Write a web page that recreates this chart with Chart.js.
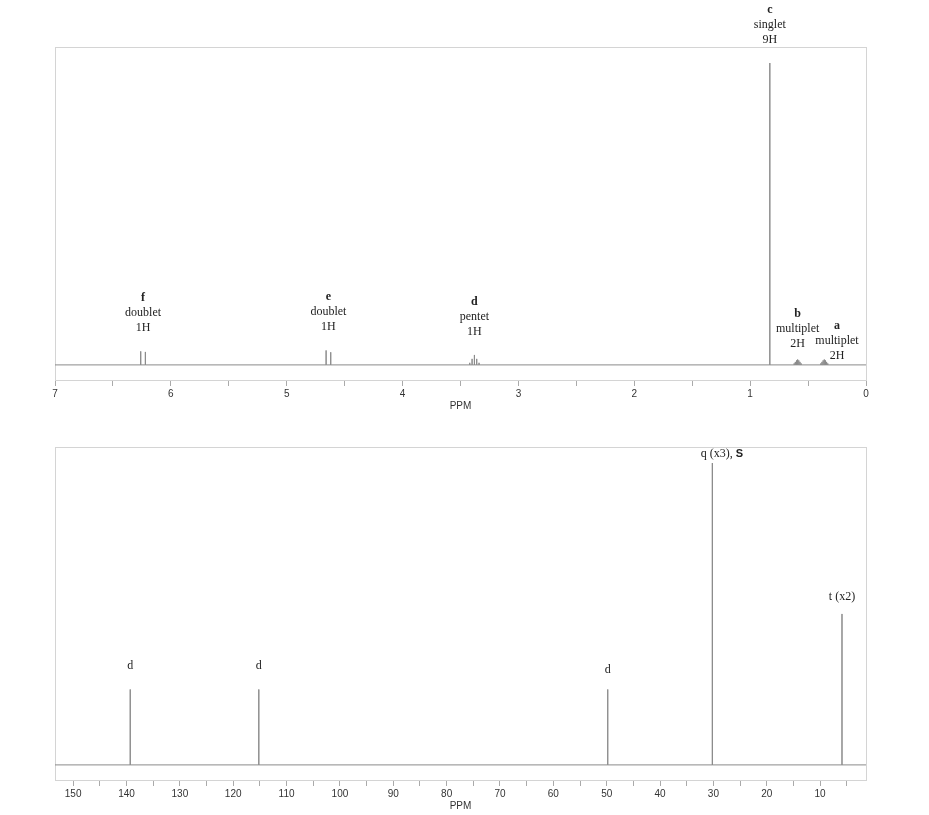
<!DOCTYPE html>
<html>
<head>
<meta charset="utf-8">
<script src="https://cdn.jsdelivr.net/npm/chart.js@4"></script>
<style>
  body { margin: 0; background: #fff; }
  .box { position: absolute; left: 0; width: 929px; height: 412px; }
</style>
</head>
<body>
<div class="box" style="top:0"><canvas id="hnmr"></canvas></div>
<div class="box" style="top:400px"><canvas id="cnmr"></canvas></div>
<script>
// 1H peaks: shift (ppm) and relative height
var hShifts  = [6.26, 6.22, 4.66, 4.62, 3.42, 3.40, 3.38, 3.36, 3.34, 0.83,
                0.62, 0.61, 0.60, 0.59, 0.58, 0.57, 0.56,
                0.39, 0.38, 0.37, 0.36, 0.35, 0.34, 0.33];
var hHeights = [0.045, 0.043, 0.048, 0.042, 0.007, 0.02, 0.033, 0.02, 0.007, 1.0,
                0.005, 0.01, 0.015, 0.018, 0.015, 0.01, 0.005,
                0.005, 0.01, 0.015, 0.018, 0.015, 0.01, 0.005];
var hLabels = [
  {ppm: 6.24, top: 0.045, lines: ['f', 'doublet', '1H']},
  {ppm: 4.64, top: 0.048, lines: ['e', 'doublet', '1H']},
  {ppm: 3.38, top: 0.033, lines: ['d', 'pentet', '1H']},
  {ppm: 0.83, top: 1.0, lines: ['c', 'singlet', '9H']},
  {ppm: 0.59, top: 0.018, lines: ['b', 'multiplet', '2H'], dy: 8},
  {ppm: 0.25, top: 0.018, lines: ['a', 'multiplet', '2H'], dy: 20}
];
var hTicks = [0, 0.5, 1, 1.5, 2, 2.5, 3, 3.5, 4, 4.5, 5, 5.5, 6, 6.5, 7];

// 13C peaks
var cShifts  = [139.3, 115.2, 49.8, 30.2, 5.9];
var cHeights = [0.25, 0.25, 0.25, 1.0, 0.5];
var cLabels = [
  {ppm: 139.3, top: 0.25, lines: ['d']},
  {ppm: 115.2, top: 0.25, lines: ['d']},
  {ppm: 49.8, top: 0.25, lines: ['d'], dy: 4},
  {ppm: 28.4, top: 1.0, lines: ['q (x3), S'], dy: 14},
  {ppm: 5.9, top: 0.5, lines: ['t (x2)'], dy: 6}
];
var cTicks = [5, 10, 15, 20, 25, 30, 35, 40, 45, 50, 55, 60, 65, 70, 75, 80,
              85, 90, 95, 100, 105, 110, 115, 120, 125, 130, 135, 140, 145, 150];

function stickLine(xs, hs, lo, hi) {
  var order = xs.map(function(x, i) { return i; }).sort(function(a, b) { return xs[a] - xs[b]; });
  var pts = [{x: lo, y: 0}];
  order.forEach(function(i) {
    pts.push({x: xs[i], y: 0}, {x: xs[i], y: hs[i]}, {x: xs[i], y: 0});
  });
  pts.push({x: hi, y: 0});
  return pts;
}

var framePlugin = {
  id: 'frame',
  beforeDatasetsDraw: function(chart) {
    var a = chart.chartArea, c = chart.ctx;
    c.save();
    c.strokeStyle = '#d4d4d4';
    c.lineWidth = 1;
    c.strokeRect(a.left + 0.5, a.top + 0.5, a.width, a.height);
    c.restore();
  },
  afterDatasetsDraw: function(chart) {
    var labels = chart.options.plugins.frame.labels;
    var c = chart.ctx, xs = chart.scales.x, ys = chart.scales.y;
    c.save();
    c.fillStyle = '#222';
    c.textAlign = 'center';
    labels.forEach(function(l) {
      var px = xs.getPixelForValue(l.ppm);
      var py = ys.getPixelForValue(l.top) - 20 + (l.dy || 0);
      for (var k = l.lines.length - 1; k >= 0; k--) {
        var t = l.lines[k];
        var bold = l.lines.length > 1 && k === 0;
        c.font = (bold ? 'bold ' : '') + '12px "Liberation Serif"';
        if (t.indexOf(', S') > 0) {
          c.font = '12px "Liberation Serif"';
          var a = t.slice(0, -1), w1 = c.measureText(a).width;
          c.font = 'bold 11px "Liberation Sans"';
          var w2 = c.measureText('S').width;
          c.textAlign = 'left';
          c.font = '12px "Liberation Serif"';
          c.fillText(a, px - (w1 + w2) / 2, py);
          c.font = 'bold 11px "Liberation Sans"';
          c.fillText('S', px - (w1 + w2) / 2 + w1, py);
          c.textAlign = 'center';
        } else {
          c.fillText(t, px, py);
        }
        py -= 15;
      }
    });
    c.restore();
  }
};

function makeChart(id, xs, hs, lo, hi, tickList, labelEvery, labels) {
  return new Chart(document.getElementById(id), {
    type: 'line',
    data: {
      datasets: [{
        data: stickLine(xs, hs, lo, hi),
        borderColor: '#8a8a8a',
        borderWidth: 1,
        pointRadius: 0,
        tension: 0
      }]
    },
    options: {
      responsive: false,
      animation: false,
      events: [],
      layout: {padding: {top: 47, left: 55, right: 63, bottom: 0}},
      plugins: {legend: {display: false}, tooltip: {enabled: false}, frame: {labels: labels}},
      scales: {
        x: {
          type: 'linear', reverse: true, min: lo, max: hi,
          afterBuildTicks: function(s) { s.ticks = tickList.map(function(v) { return {value: v}; }); },
          afterFit: function(s) { s.height = 32; },
          border: {color: '#bbb'},
          grid: {drawOnChartArea: false, tickLength: 6, color: '#aaa'},
          ticks: {
            autoSkip: false, maxRotation: 0, padding: 2,
            color: '#333', font: {family: 'Liberation Sans', size: 10},
            callback: function(v) { return Math.abs(v / labelEvery - Math.round(v / labelEvery)) < 1e-6 ? v : ''; }
          },
          title: {display: true, text: 'PPM', color: '#333', padding: 0,
                  font: {family: 'Liberation Sans', size: 10}}
        },
        y: {display: false, min: -0.05, max: 1.053}
      }
    },
    plugins: [framePlugin]
  });
}

var h = document.getElementById('hnmr'); h.width = 929; h.height = 412;
var cc = document.getElementById('cnmr'); cc.width = 929; cc.height = 412;
makeChart('hnmr', hShifts, hHeights, 0, 7, hTicks, 1, hLabels);
makeChart('cnmr', cShifts, cHeights, 1.4, 153.4, cTicks, 10, cLabels);
</script>
</body>
</html>
